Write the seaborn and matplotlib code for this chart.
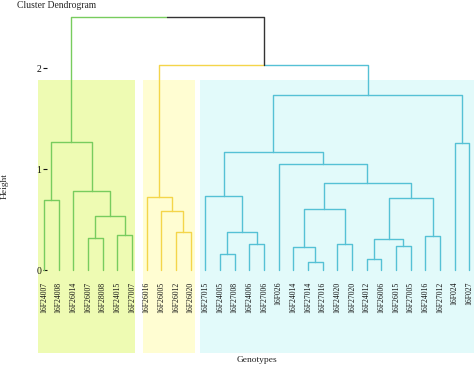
import numpy as np
import pandas as pd
import matplotlib
matplotlib.use('Agg')
import matplotlib.pyplot as plt
from matplotlib.patches import Rectangle
import seaborn as sns

# ---- data ------------------------------------------------------------------
leaf_labels = ['16F24007', '16F24008', '16F26014', '16F26007', '16F28008', '16F24015', '16F27007',
               '16F26016', '16F26005', '16F26012', '16F26020',
               '16F27015', '16F24005', '16F27008', '16F24006', '16F27006', '16F026',
               '16F24014', '16F27014', '16F27016', '16F24020', '16F27020', '16F24012',
               '16F26006', '16F26015', '16F27005', '16F24016', '16F27012', '16F024', '16F027']
leaf_cluster = ['g'] * 7 + ['y'] * 4 + ['c'] * 19

# merges, scipy-linkage style: leaves are 0..29, merge k becomes node 30+k
merge_left = [0, 3, 5, 31, 2, 30,
              9, 8, 7,
              12, 14, 39, 11, 18, 17, 20, 44, 22, 24, 47, 26, 49, 46, 16, 42, 28, 54,
              38, 35]
merge_right = [1, 4, 6, 32, 33, 34,
               10, 36, 37,
               13, 15, 40, 41, 19, 43, 21, 45, 23, 25, 48, 27, 50, 51, 52, 53, 29, 55,
               56, 57]
merge_height = [0.70, 0.32, 0.35, 0.54, 0.79, 1.275,
                0.385, 0.59, 0.725,
                0.163, 0.26, 0.378, 0.735, 0.087, 0.233, 0.265, 0.606, 0.117, 0.245,
                0.315, 0.345, 0.715, 0.863, 1.05, 1.17, 1.265, 1.74,
                2.03, 2.51]

y_ticks = [0, 1, 2]

# ---- style ------------------------------------------------------------------
line_colors = {'g': '#78cc5e', 'y': '#f4d54a', 'c': '#55c1d5', 'k': '#333333'}
fill_colors = {'g': '#eefbb3', 'y': '#fffdd2', 'c': '#e2fafa'}
rect_pad = {'g': (0.40, 0.20), 'y': (0.25, 0.30), 'c': (0.36, 1.0)}
rect_top, rect_bottom = 1.886, -0.817
XLIM = (0.205, 29.33)
YLIM = (-0.936, 2.678)
FONT = ['Liberation Serif', 'DejaVu Serif']


# ---- build dendrogram segments --------------------------------------------
n_leaves = len(leaf_labels)
node_x = {i: float(i) for i in range(n_leaves)}
node_h = {i: 0.0 for i in range(n_leaves)}
node_cl = {i: leaf_cluster[i] for i in range(n_leaves)}

rows = []
seg = 0
for k, (a, b, h) in enumerate(zip(merge_left, merge_right, merge_height)):
    n = n_leaves + k
    node_x[n] = (node_x[a] + node_x[b]) / 2
    node_h[n] = h
    node_cl[n] = node_cl[a] if node_cl[a] == node_cl[b] else 'k'
    for c in (a, b):
        pts = [(node_x[n], h), (node_x[c], h), (node_x[c], node_h[c])]
        for order, (px, py) in enumerate(pts):
            rows.append({'seg': seg, 'order': order, 'x': px, 'y': py, 'grp': node_cl[c]})
        seg += 1
segs = pd.DataFrame(rows)

# ---- plot -------------------------------------------------------------------
sns.set_style('white')
plt.rcParams['font.family'] = FONT

fig = plt.figure(figsize=(4.74, 3.65), dpi=100)
ax = fig.add_axes([47 / 474, 0, 1 - 47 / 474, 1])

for cl in ['g', 'y', 'c']:
    idx = [i for i, c in enumerate(leaf_cluster) if c == cl]
    x0 = idx[0] - rect_pad[cl][0]
    x1 = idx[-1] + rect_pad[cl][1]
    ax.add_patch(Rectangle((x0, rect_bottom), x1 - x0, rect_top - rect_bottom,
                           facecolor=fill_colors[cl], edgecolor='none', zorder=0, clip_on=False))

sns.lineplot(data=segs, x='x', y='y', units='seg', estimator=None, sort=False,
             hue='grp', palette=line_colors, legend=False, linewidth=1.0, ax=ax)
for ln in ax.lines:
    ln.set_clip_on(False)
    ln.set_zorder(2)

for i, lab in enumerate(leaf_labels):
    ax.text(i, -0.112, lab, rotation=90, ha='center', va='top', fontsize=5.6,
            color='#111111', family=FONT)

ax.set_xlim(*XLIM)
ax.set_ylim(*YLIM)
ax.set_xticks([])
ax.set_yticks(y_ticks)
ax.set_yticklabels([str(t) for t in y_ticks], fontsize=7)
ax.tick_params(axis='y', left=True, length=3, width=0.8, pad=1, colors='#111111')
for s in ax.spines.values():
    s.set_visible(False)
ax.set_xlabel(''); ax.set_ylabel('')
ax.patch.set_alpha(0)

fig.text(17 / 474, 1 - 6 / 365, 'Cluster Dendrogram', ha='left', va='center', fontsize=6.9)
fig.text(5 / 474, 1 - 186 / 365, 'Height', rotation=90, ha='center', va='center', fontsize=6.8)
fig.text(257 / 474, 1 - 360 / 365, 'Genotypes', ha='center', va='center', fontsize=6.8)

fig.savefig('out.png', dpi=100)
